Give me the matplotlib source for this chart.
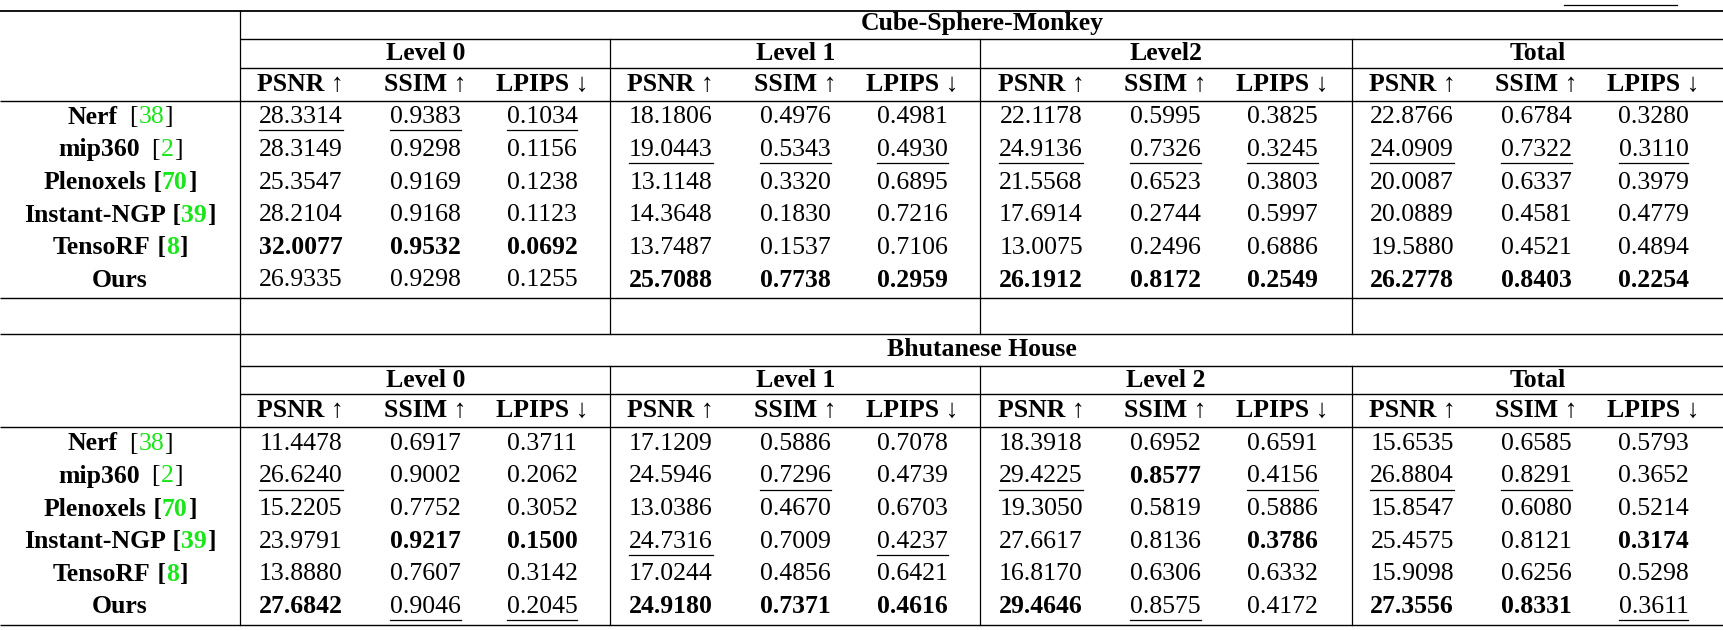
import matplotlib
matplotlib.use("Agg")
import matplotlib.pyplot as plt

methods = ["Nerf", "mip360", "Plenoxels", "Instant-NGP", "TensoRF", "Ours"]
cites = ["38", "2", "70", "39", "8", ""]
cite_bold = [False, False, True, True, True, False]
cite_gap = ["  ", "  ", " ", " ", " ", ""]
scenes = ["Cube-Sphere-Monkey", "Bhutanese House"]
levels = [["Level 0", "Level 1", "Level2", "Total"], ["Level 0", "Level 1", "Level 2", "Total"]]
metrics = ["PSNR ↑", "SSIM ↑", "LPIPS ↓"]

csm_vals = [
    ["28.3314", "0.9383", "0.1034", "18.1806", "0.4976", "0.4981", "22.1178", "0.5995", "0.3825", "22.8766", "0.6784", "0.3280"],
    ["28.3149", "0.9298", "0.1156", "19.0443", "0.5343", "0.4930", "24.9136", "0.7326", "0.3245", "24.0909", "0.7322", "0.3110"],
    ["25.3547", "0.9169", "0.1238", "13.1148", "0.3320", "0.6895", "21.5568", "0.6523", "0.3803", "20.0087", "0.6337", "0.3979"],
    ["28.2104", "0.9168", "0.1123", "14.3648", "0.1830", "0.7216", "17.6914", "0.2744", "0.5997", "20.0889", "0.4581", "0.4779"],
    ["32.0077", "0.9532", "0.0692", "13.7487", "0.1537", "0.7106", "13.0075", "0.2496", "0.6886", "19.5880", "0.4521", "0.4894"],
    ["26.9335", "0.9298", "0.1255", "25.7088", "0.7738", "0.2959", "26.1912", "0.8172", "0.2549", "26.2778", "0.8403", "0.2254"],
]
csm_style = [
    "UUUnnnnnnnnn",
    "nnnUUUUUUUUU",
    "nnnnnnnnnnnn",
    "nnnnnnnnnnnn",
    "BBBnnnnnnnnn",
    "nnnBBBBBBBBB",
]
bh_vals = [
    ["11.4478", "0.6917", "0.3711", "17.1209", "0.5886", "0.7078", "18.3918", "0.6952", "0.6591", "15.6535", "0.6585", "0.5793"],
    ["26.6240", "0.9002", "0.2062", "24.5946", "0.7296", "0.4739", "29.4225", "0.8577", "0.4156", "26.8804", "0.8291", "0.3652"],
    ["15.2205", "0.7752", "0.3052", "13.0386", "0.4670", "0.6703", "19.3050", "0.5819", "0.5886", "15.8547", "0.6080", "0.5214"],
    ["23.9791", "0.9217", "0.1500", "24.7316", "0.7009", "0.4237", "27.6617", "0.8136", "0.3786", "25.4575", "0.8121", "0.3174"],
    ["13.8880", "0.7607", "0.3142", "17.0244", "0.4856", "0.6421", "16.8170", "0.6306", "0.6332", "15.9098", "0.6256", "0.5298"],
    ["27.6842", "0.9046", "0.2045", "24.9180", "0.7371", "0.4616", "29.4646", "0.8575", "0.4172", "27.3556", "0.8331", "0.3611"],
]
bh_style = [
    "nnnnnnnnnnnn",
    "UnnnUnUBUUUn",
    "nnnnnnnnnnnn",
    "nBBUnUnnBnnB",
    "nnnnnnnnnnnn",
    "BUUBBBBUnBBU",
]

W, H = 1565, 575
fig = plt.figure(figsize=(17.24, 6.30), dpi=100)
ax = fig.add_axes([0, 0, 1, 1])
ax.set_xlim(0, W)
ax.set_ylim(H, 0)
ax.axis("off")
FONT = "Liberation Serif"
FS = 18.5
GREEN = "#19e619"

group_x = [218, 554, 890, 1227, 1565]
sub_off = [55, 168, 274]

def hl(y, x0=0, x1=W, lw=1.0):
    ax.plot([x0, x1], [y, y], color="black", lw=lw, solid_capstyle="butt")

def vl(x, y0, y1):
    ax.plot([x, x], [y0, y1], color="black", lw=0.9)

fig.canvas.draw()
renderer = fig.canvas.get_renderer()
inv = ax.transData.inverted()

def width_of(t):
    bb = t.get_window_extent(renderer)
    p0 = inv.transform((bb.x0, bb.y0)); p1 = inv.transform((bb.x1, bb.y1))
    return p0[0], p1[0]

def cell(x, y, s, style):
    t = ax.text(x, y, s, ha="center", va="center", family=FONT, fontsize=FS,
                fontweight="bold" if style == "B" else "normal")
    if style == "U":
        x0, x1 = width_of(t)
        ax.plot([x0, x1], [y + 12, y + 12], color="black", lw=0.9)

def label(y, i):
    pieces = [(methods[i], "bold", "black")]
    if cites[i]:
        pieces += [(cite_gap[i] + "[", "bold" if cite_bold[i] else "normal", "black"),
                   (cites[i], "bold" if cite_bold[i] else "normal", GREEN),
                   ("]", "bold" if cite_bold[i] else "normal", "black")]
    texts = []
    for s, w, c in pieces:
        texts.append(ax.text(0, y, s, ha="left", va="center", family=FONT,
                             fontsize=FS, fontweight=w, color=c))
    widths = []
    for t in texts:
        a, b = width_of(t)
        widths.append(b - a)
    total = sum(widths)
    x = 109 - total / 2
    for t, w in zip(texts, widths):
        t.set_x(x)
        x += w

def section(ytop, vtop, scene, lvls, vals, styles):
    ax.text((218 + W) / 2, ytop + 11, scene, ha="center", va="center", family=FONT,
            fontsize=FS, fontweight="bold")
    hl(ytop + 26, 218, W)
    for g in range(4):
        ax.text((group_x[g] + group_x[g + 1]) / 2, ytop + 39, lvls[g], ha="center",
                va="center", family=FONT, fontsize=FS, fontweight="bold")
        for k in range(3):
            ax.text(group_x[g] + sub_off[k], ytop + 67, metrics[k], ha="center",
                    va="center", family=FONT, fontsize=FS, fontweight="bold")
    hl(ytop + 52, 218, W)
    hl(ytop + 82)
    for g in range(1, 4):
        vl(group_x[g], ytop + 26, ytop + 262)
    vl(218, vtop, ytop + 262)
    for i in range(len(methods)):
        y = ytop + 97 + i * 29.8
        label(y, i)
        for j in range(12):
            g, k = divmod(j, 3)
            cell(group_x[g] + sub_off[k], y, vals[i][j], styles[i][j])
    hl(ytop + 262)

hl(10, lw=1.3)
ax.plot([1420, 1522], [5, 5], color="black", lw=0.9)
section(10, 10, scenes[0], levels[0], csm_vals, csm_style)
for x in group_x[:4]:
    vl(x, 272, 305)
hl(305)
section(308, 305, scenes[1], levels[1], bh_vals, bh_style)
fig.savefig("out.png", dpi=100)
